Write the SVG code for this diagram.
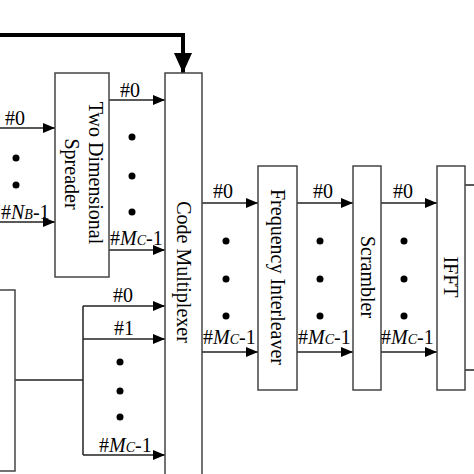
<svg xmlns="http://www.w3.org/2000/svg" width="474" height="474" viewBox="0 0 474 474">
<style>
.box{fill:#fff;stroke:#444;stroke-width:1.5}
.ln{fill:none;stroke:#222;stroke-width:1.5}
.thick{fill:none;stroke:#000;stroke-width:4;stroke-linejoin:miter}
text{font-family:"Liberation Serif","Times New Roman",serif;font-size:20px;fill:#000}
.t{text-anchor:middle}
.i{font-style:italic}
.s{font-style:italic;font-size:14px}
.dot{fill:#000}
</style>
<defs>
<marker id="ah" markerUnits="userSpaceOnUse" markerWidth="12" markerHeight="10" refX="12" refY="5" orient="auto">
<path d="M0,0 L12,5 L0,10 z" fill="#000"/>
</marker>
<marker id="big" markerUnits="userSpaceOnUse" markerWidth="20" markerHeight="18" refX="20" refY="9" orient="auto">
<path d="M0,0 L20,9 L0,18 z" fill="#000"/>
</marker>
</defs>
<rect width="474" height="474" fill="#fff"/>

<g id="connectors">
<path class="thick" d="M0,35 H183 V73" marker-end="url(#big)"/>
<path class="ln" d="M0,128 H55" marker-end="url(#ah)"/>
<path class="ln" d="M0,222 H55" marker-end="url(#ah)"/>
<path class="ln" d="M109,100 H165" marker-end="url(#ah)"/>
<path class="ln" d="M109,250 H165" marker-end="url(#ah)"/>
<path class="ln" d="M15,380 H83"/>
<path class="ln" d="M83,306 V455"/>
<path class="ln" d="M83,306 H165" marker-end="url(#ah)"/>
<path class="ln" d="M83,339 H165" marker-end="url(#ah)"/>
<path class="ln" d="M83,455 H165" marker-end="url(#ah)"/>
<path class="ln" d="M202,203 H258" marker-end="url(#ah)"/>
<path class="ln" d="M202,352 H258" marker-end="url(#ah)"/>
<path class="ln" d="M297,203 H353" marker-end="url(#ah)"/>
<path class="ln" d="M297,352 H353" marker-end="url(#ah)"/>
<path class="ln" d="M381,203 H437" marker-end="url(#ah)"/>
<path class="ln" d="M381,352 H437" marker-end="url(#ah)"/>
<path class="ln" d="M465,185 H474"/>
<path class="ln" d="M465,370 H474"/>
</g>

<g id="left-box">
<rect class="box" x="-5" y="290" width="20" height="181"/>
</g>

<g id="spreader">
<rect class="box" x="55" y="73" width="54" height="204"/>
<text class="t" transform="translate(89,173) rotate(90)">Two Dimensional</text>
<text class="t" transform="translate(65,174) rotate(90)">Spreader</text>
</g>

<g id="code-multiplexer">
<rect class="box" x="165" y="73" width="37" height="420"/>
<text class="t" transform="translate(177,272) rotate(90)">Code Multiplexer</text>
</g>

<g id="frequency-interleaver">
<rect class="box" x="258" y="166" width="39" height="224"/>
<text class="t" transform="translate(271,277) rotate(90)">Frequency Interleaver</text>
</g>

<g id="scrambler">
<rect class="box" x="353" y="166" width="28" height="224"/>
<text class="t" transform="translate(361,277) rotate(90)">Scrambler</text>
</g>

<g id="ifft">
<rect class="box" x="437" y="166" width="28" height="224"/>
<text class="t" transform="translate(444,277) rotate(90)">IFFT</text>
</g>

<g id="labels">
<text x="5" y="125">#0</text>
<text x="1" y="219">#<tspan class="i">N</tspan><tspan class="s">B</tspan>-1</text>
<text x="120" y="97">#0</text>
<text x="110" y="245">#<tspan class="i">M</tspan><tspan class="s">C</tspan>-1</text>
<text x="113" y="302">#0</text>
<text x="114" y="335">#1</text>
<text x="99" y="452">#<tspan class="i">M</tspan><tspan class="s">C</tspan>-1</text>
<text x="213" y="198">#0</text>
<text x="313" y="198">#0</text>
<text x="393" y="198">#0</text>
<text x="203" y="344">#<tspan class="i">M</tspan><tspan class="s">C</tspan>-1</text>
<text x="298" y="344">#<tspan class="i">M</tspan><tspan class="s">C</tspan>-1</text>
<text x="381" y="344">#<tspan class="i">M</tspan><tspan class="s">C</tspan>-1</text>
</g>

<g id="dots">
<circle class="dot" cx="16" cy="158" r="3.5"/>
<circle class="dot" cx="16" cy="185" r="3.5"/>
<circle class="dot" cx="132" cy="137" r="3.5"/>
<circle class="dot" cx="132" cy="176" r="3.5"/>
<circle class="dot" cx="132" cy="212" r="3.5"/>
<circle class="dot" cx="120" cy="362" r="3.5"/>
<circle class="dot" cx="120" cy="391" r="3.5"/>
<circle class="dot" cx="120" cy="417" r="3.5"/>
<circle class="dot" cx="226" cy="241" r="3.5"/>
<circle class="dot" cx="226" cy="279" r="3.5"/>
<circle class="dot" cx="226" cy="316" r="3.5"/>
<circle class="dot" cx="320" cy="241" r="3.5"/>
<circle class="dot" cx="320" cy="279" r="3.5"/>
<circle class="dot" cx="320" cy="316" r="3.5"/>
<circle class="dot" cx="404" cy="241" r="3.5"/>
<circle class="dot" cx="404" cy="279" r="3.5"/>
<circle class="dot" cx="404" cy="316" r="3.5"/>
</g>
</svg>
